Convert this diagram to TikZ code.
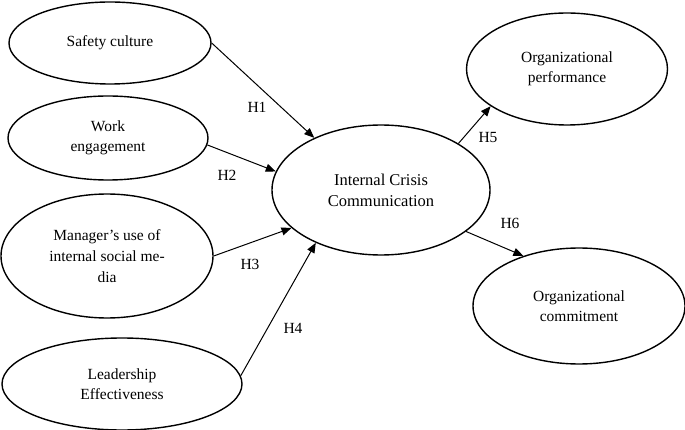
\documentclass[tikz,border=0pt]{standalone}
\usepackage{fontspec}
\setmainfont{Liberation Serif}
\usetikzlibrary{shapes.geometric,arrows.meta}
\begin{document}
\begin{tikzpicture}[x=1pt,y=-1pt,font=\fontsize{15.5}{19.5}\selectfont,
	var/.style={ellipse,draw,line width=1.4pt,inner sep=0pt,align=center},
	hyp/.style={line width=1pt,-{Triangle[length=10pt,width=8pt]}}]
	\useasboundingbox (0,0) rectangle (685,430);
	\node[var,minimum width=202pt,minimum height=82pt] (sc) at (110,43) {Safety culture};
	\node[var,minimum width=200pt,minimum height=84pt] (we) at (108,138) {Work\\engagement};
	\node[var,minimum width=212pt,minimum height=124pt,font=\fontsize{15.5}{21}\selectfont] (mu) at (107,256) {Manager's use of\\internal social me-\\dia};
	\node[var,minimum width=240pt,minimum height=92pt] (le) at (122,384) {Leadership\\Effectiveness};
	\node[var,minimum width=218pt,minimum height=130pt,font=\fontsize{16.5}{21}\selectfont] (icc) at (381,190) {Internal Crisis\\Communication};
	\node[var,minimum width=201pt,minimum height=112pt] (op) at (567,69) {Organizational\\performance};
	\node[var,minimum width=212pt,minimum height=116pt] (oc) at (579,306) {Organizational\\commitment};
	\draw[hyp] (sc.east) -- (icc.142);
	\draw[hyp] (we.-4) -- (icc.170);
	\draw[hyp] (mu.east) -- (icc.203);
	\draw[hyp] (le.4) -- (icc.219);
	\draw[hyp] (icc.31) -- (op.206);
	\draw[hyp] (icc.-26) -- (oc.138);
	\node at (257,107) {H1};
	\node at (227,175) {H2};
	\node at (250,264) {H3};
	\node at (293,328) {H4};
	\node at (488,138) {H5};
	\node at (510,223) {H6};
\end{tikzpicture}
\end{document}
